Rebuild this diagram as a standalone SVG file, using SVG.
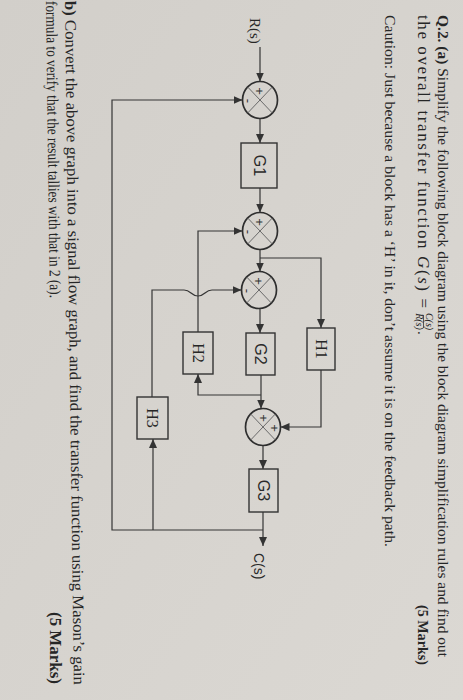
<svg xmlns="http://www.w3.org/2000/svg" width="463" height="700" viewBox="0 0 463 700">
<style>
.ln{fill:none;stroke:#353535;stroke-width:1.2}
.bx{fill:none;stroke:#333;stroke-width:1.4}
.sm{fill:none;stroke:#2e2e2e;stroke-width:1.7}
.xl{stroke:#6a6a6a;stroke-width:1}
.tx{font-family:"Liberation Serif","Times New Roman",serif;fill:#262626}
.sf{font-family:"Liberation Sans",Arial,sans-serif;fill:#2a2a2a}
.lb{font-size:16px;text-anchor:middle;dominant-baseline:central}
.sg{font-family:"Liberation Sans",Arial,sans-serif;font-size:13px;fill:#333;text-anchor:middle;dominant-baseline:central}
</style>
<defs>
<linearGradient id="bg" x1="0" y1="0" x2="1" y2="1">
<stop offset="0" stop-color="#d2cfca"/><stop offset="1" stop-color="#dbd8d3"/>
</linearGradient>
<marker id="ah" markerWidth="9" markerHeight="8" refX="9" refY="4" orient="auto" markerUnits="userSpaceOnUse"><path d="M0,0 L9,4 L0,8 z" fill="#333"/></marker>
</defs>
<rect width="463" height="700" fill="url(#bg)"/>

<g id="texts">
<text class="tx" font-size="15" transform="translate(438,15) rotate(90)" textLength="642" lengthAdjust="spacingAndGlyphs"><tspan font-weight="bold">Q.2.</tspan> <tspan font-weight="bold">(a)</tspan> Simplify the following block diagram using the block diagram simplification rules and find out</text>
<text class="tx" font-size="17" transform="translate(418,15) rotate(90)" textLength="293" lengthAdjust="spacing">the overall transfer function <tspan font-style="italic">G</tspan>(<tspan font-style="italic">s</tspan>) =</text>
<text class="tx" font-size="10" font-style="italic" text-anchor="middle" transform="translate(425.5,321.5) rotate(90)">C(s)</text>
<line x1="423.5" y1="315" x2="423.5" y2="328" stroke="#333" stroke-width="0.8"/>
<text class="tx" font-size="10" font-style="italic" text-anchor="middle" transform="translate(415.5,321.5) rotate(90)">R(s)</text>
<text class="tx" font-size="15" transform="translate(418,331) rotate(90)">.</text>
<text class="tx" font-size="15" font-weight="bold" transform="translate(418,605) rotate(90)" textLength="60" lengthAdjust="spacingAndGlyphs">(5 Marks)</text>
<text class="tx" font-size="15" transform="translate(384.5,15) rotate(90)" textLength="532" lengthAdjust="spacingAndGlyphs">Caution: Just because a block has a ‘H’ in it, don’t assume it is on the feedback path.</text>
<text class="tx" font-size="16" transform="translate(65,1) rotate(89.25)" textLength="684" lengthAdjust="spacingAndGlyphs"><tspan font-weight="bold">b)</tspan> Convert the above graph into a signal flow graph, and find the transfer function using Mason’s gain</text>
<text class="tx" font-size="16" transform="translate(46,1) rotate(89.25)" textLength="297" lengthAdjust="spacingAndGlyphs">formula to verify that the result tallies with that in 2 (a).</text>
<text class="tx" font-size="16" font-weight="bold" transform="translate(50,612) rotate(90)" textLength="72" lengthAdjust="spacingAndGlyphs">(5 Marks)</text>
</g>

<g id="connectors">
<path class="ln" d="M260,47 V81.5" marker-end="url(#ah)"/>
<path class="ln" d="M260,118.5 V143" marker-end="url(#ah)"/>
<path class="ln" d="M260,188 V212.5" marker-end="url(#ah)"/>
<path class="ln" d="M260,249.5 V271.5" marker-end="url(#ah)"/>
<path class="ln" d="M260,258 H321 V328" marker-end="url(#ah)"/>
<path class="ln" d="M260,308.5 V333" marker-end="url(#ah)"/>
<path class="ln" d="M261,375 V408.5" marker-end="url(#ah)"/>
<path class="ln" d="M261,395 H198 V374" marker-end="url(#ah)"/>
<path class="ln" d="M198,332 V231 H242.5" marker-end="url(#ah)"/>
<path class="ln" d="M321,370 V427 H280.5" marker-end="url(#ah)"/>
<path class="ln" d="M152,397 V290 H184 C191,290 191,296 198,296 C205,296 205,290 212,290 H241.5" marker-end="url(#ah)"/>
<path class="ln" d="M263,445.5 V469" marker-end="url(#ah)"/>
<path class="ln" d="M263,512 V546" marker-end="url(#ah)"/>
<path class="ln" d="M263,530 H112 V100 H242.5" marker-end="url(#ah)"/>
<path class="ln" d="M153,530 V439" marker-end="url(#ah)"/>
</g>

<g id="R">
<text class="tx" font-size="15" transform="translate(250,18) rotate(90)">R(s)</text>
</g>
<g id="C">
<text class="sf" font-size="14" transform="translate(254,553) rotate(90)">C(s)</text>
</g>

<g id="sum1">
<ellipse class="sm" cx="260" cy="100" rx="17.5" ry="18.5"/>
<path class="xl" d="M247.6,86.9 L272.4,113.1 M272.4,86.9 L247.6,113.1"/>
<text class="sg" transform="translate(259,91) rotate(90)">+</text>
<text class="sg" transform="translate(248,101) rotate(90)">-</text>
</g>
<g id="G1">
<rect class="bx" x="241" y="143" width="36" height="45"/>
<text class="sf lb" transform="translate(259,165.5) rotate(90)">G1</text>
</g>
<g id="sum2">
<ellipse class="sm" cx="260" cy="231" rx="17.5" ry="18.5"/>
<path class="xl" d="M247.6,217.9 L272.4,244.1 M272.4,217.9 L247.6,244.1"/>
<text class="sg" transform="translate(259,222) rotate(90)">+</text>
<text class="sg" transform="translate(248,232) rotate(90)">-</text>
</g>
<g id="sum3">
<ellipse class="sm" cx="259" cy="290" rx="17.5" ry="18.5"/>
<path class="xl" d="M246.6,276.9 L271.4,303.1 M271.4,276.9 L246.6,303.1"/>
<text class="sg" transform="translate(258,281) rotate(90)">+</text>
<text class="sg" transform="translate(247,291) rotate(90)">-</text>
</g>
<g id="H1">
<rect class="bx" x="307" y="328" width="28" height="42"/>
<text class="tx lb" transform="translate(321,349) rotate(90)">H1</text>
</g>
<g id="G2">
<rect class="bx" x="246" y="333" width="29" height="42"/>
<text class="sf lb" transform="translate(260.5,354) rotate(90)">G2</text>
</g>
<g id="H2">
<rect class="bx" x="183" y="332" width="30" height="42"/>
<text class="tx lb" transform="translate(198,353) rotate(90)">H2</text>
</g>
<g id="sum4">
<ellipse class="sm" cx="263" cy="427" rx="17.5" ry="18.5"/>
<path class="xl" d="M250.6,413.9 L275.4,440.1 M275.4,413.9 L250.6,440.1"/>
<text class="sg" transform="translate(263,418) rotate(90)">+</text>
<text class="sg" transform="translate(274,428) rotate(90)">+</text>
</g>
<g id="H3">
<rect class="bx" x="137" y="397" width="31" height="42"/>
<text class="tx lb" transform="translate(152.5,418) rotate(90)">H3</text>
</g>
<g id="G3">
<rect class="bx" x="249" y="469" width="29" height="43"/>
<text class="sf lb" transform="translate(263.5,490.5) rotate(90)">G3</text>
</g>
</svg>
